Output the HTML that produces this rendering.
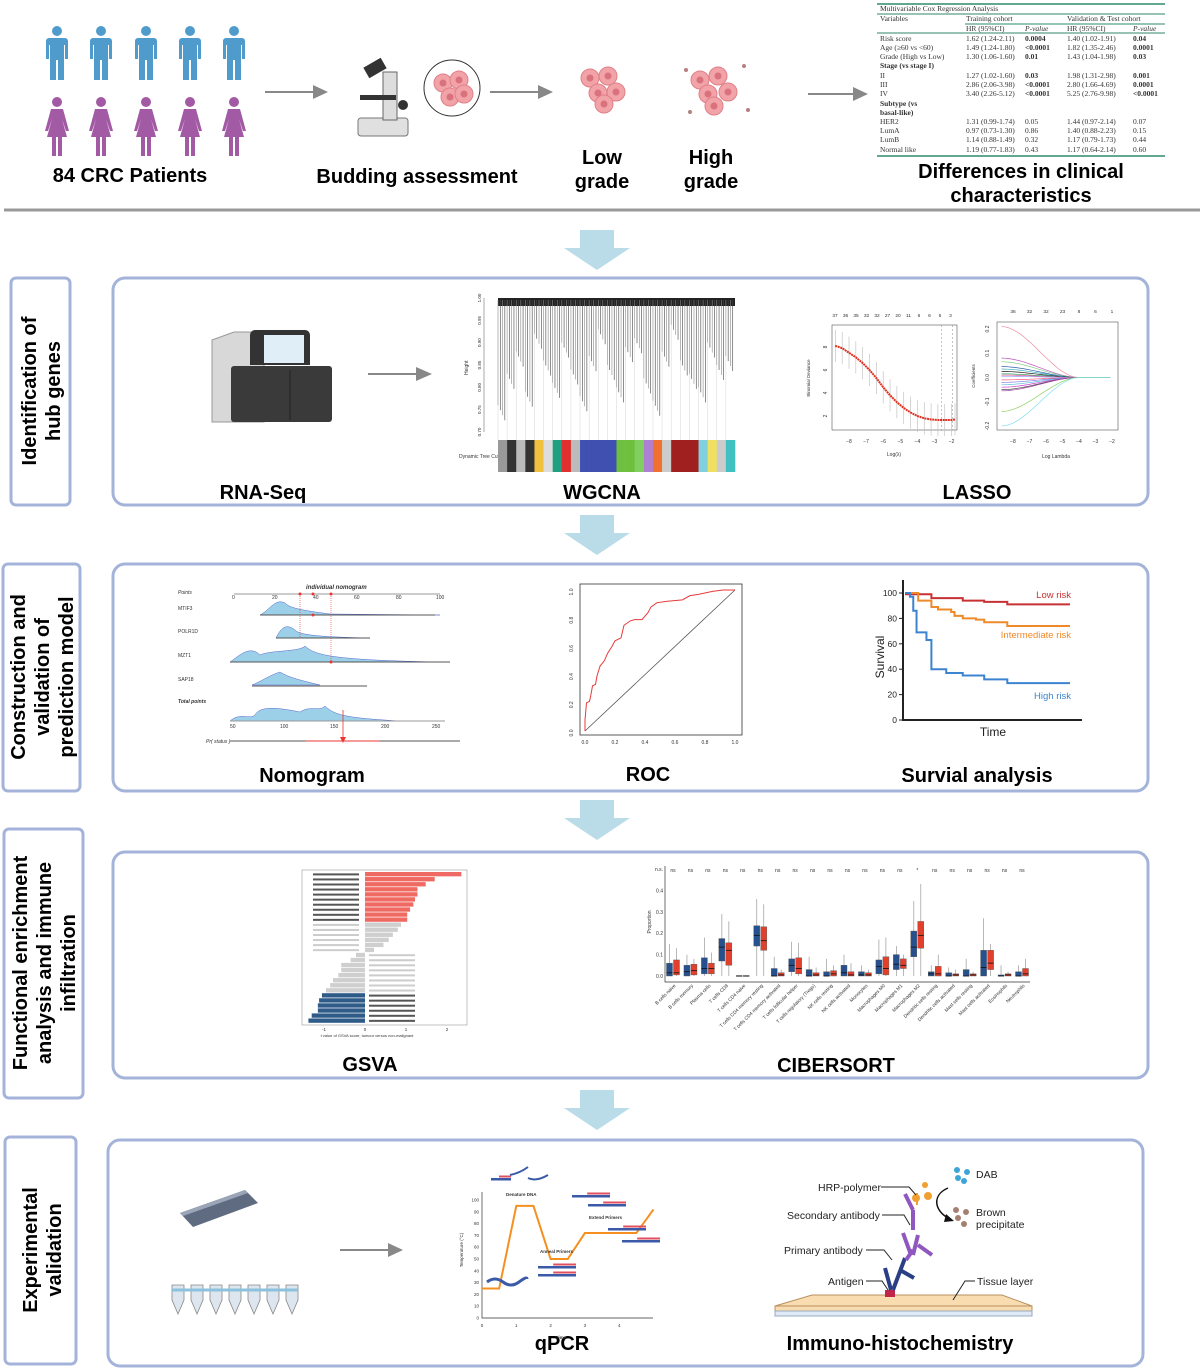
<!DOCTYPE html>
<html><head><meta charset="utf-8"><style>
html,body{margin:0;padding:0;background:#fff;}
svg{display:block;font-family:"Liberation Sans",sans-serif;}
.t{font-weight:bold;font-size:20px;fill:#000;text-anchor:middle;}
.tiny{font-size:5px;fill:#333;}
.box{fill:none;stroke:#a4b3d9;stroke-width:3;}
</style></head><body>
<svg id="page" width="1200" height="1368" viewBox="0 0 1200 1368" xmlns="http://www.w3.org/2000/svg">
<defs>
<g id="man"><circle cx="0" cy="-24" r="5" fill="#4f9ccc"/><path d="M-8,-17 h16 a3,3 0 0 1 3,3 v18 h-3 v-14 h-1 v35 h-6 v-20 h-2 v20 h-6 v-35 h-1 v14 h-3 v-18 a3,3 0 0 1 3,-3z" fill="#4f9ccc"/></g>
<g id="woman"><circle cx="0" cy="-24" r="5" fill="#a35aa5"/><path d="M-6,-17 h12 l6,22 h-3 l-4,-12 l5,18 h-5 v19 h-4 v-19 h-2 v19 h-4 v-19 h-5 l5,-18 l-4,12 h-3z" fill="#a35aa5"/></g>
<g id="cell"><circle r="9" fill="#f2a3a8" stroke="#e07f88" stroke-width="1"/><circle r="3.5" fill="#d9727c"/></g>
<g id="dnarrow"><polygon points="-33,0 33,0 0,22" fill="#b9dce8"/><rect x="-17" y="-18" width="34" height="18" fill="#b9dce8"/></g>
</defs>

<!-- top row -->
<g>
<use href="#man" x="57" y="55"/><use href="#man" x="101" y="55"/><use href="#man" x="146" y="55"/><use href="#man" x="190" y="55"/><use href="#man" x="234" y="55"/>
<use href="#woman" x="57" y="126"/><use href="#woman" x="101" y="126"/><use href="#woman" x="146" y="126"/><use href="#woman" x="190" y="126"/><use href="#woman" x="234" y="126"/>
</g>
<text class="t" x="130" y="182">84 CRC Patients</text>
<g><line x1="265" y1="92" x2="315" y2="92" stroke="#888" stroke-width="2"/><polygon points="313,85 328,92 313,99" fill="#888"/></g>
<g>
<rect x="358" y="118" width="50" height="18" rx="3" fill="#e0e0e0" stroke="#777"/>
<rect x="383" y="72" width="14" height="48" fill="#ddd" stroke="#666"/>
<rect x="360" y="95" width="36" height="5" fill="#333"/>
<rect x="365" y="62" width="20" height="12" fill="#333" transform="rotate(-30 375 68)"/>
<circle cx="403" cy="105" r="5" fill="#333"/>
<circle cx="452" cy="88" r="28" fill="#fff" stroke="#333"/>
<use href="#cell" x="443" y="83"/><use href="#cell" x="459" y="80"/><use href="#cell" x="450" y="97"/><use href="#cell" x="464" y="94"/>
</g>
<text class="t" x="417" y="183">Budding assessment</text>
<g><line x1="490" y1="92" x2="540" y2="92" stroke="#888" stroke-width="2"/><polygon points="538,85 553,92 538,99" fill="#888"/></g>
<g><use href="#cell" x="590" y="78"/><use href="#cell" x="608" y="76"/><use href="#cell" x="598" y="93"/><use href="#cell" x="616" y="92"/><use href="#cell" x="604" y="104"/></g>
<g><use href="#cell" x="700" y="80"/><use href="#cell" x="718" y="76"/><use href="#cell" x="708" y="94"/><use href="#cell" x="728" y="92"/><use href="#cell" x="714" y="106"/>
<circle cx="686" cy="70" r="2" fill="#b58080"/><circle cx="744" cy="66" r="2" fill="#b58080"/><circle cx="690" cy="112" r="2" fill="#b58080"/><circle cx="748" cy="110" r="2" fill="#b58080"/></g>
<text class="t" x="602" y="164">Low</text>
<text class="t" x="602" y="188">grade</text>
<text class="t" x="711" y="164">High</text>
<text class="t" x="711" y="188">grade</text>
<g><line x1="808" y1="94" x2="855" y2="94" stroke="#888" stroke-width="2"/><polygon points="853,87 868,94 853,101" fill="#888"/></g>

<g font-family="Liberation Serif" font-size="7.5" fill="#333">
<line x1="877" y1="4" x2="1165" y2="4" stroke="#2e8a6a" stroke-width="1.5"/>
<text x="880" y="11">Multivariable Cox Regression Analysis</text>
<line x1="877" y1="14" x2="1165" y2="14" stroke="#2e8a6a"/>
<text x="880" y="21">Variables</text><text x="966" y="21">Training cohort</text><text x="1067" y="21">Validation &amp; Test cohort</text>
<line x1="965" y1="24" x2="1165" y2="24" stroke="#2e8a6a"/>
<text x="966" y="31">HR (95%CI)</text><text x="1025" y="31" font-style="italic">P-value</text><text x="1067" y="31">HR (95%CI)</text><text x="1133" y="31" font-style="italic">P-value</text>
<line x1="877" y1="33" x2="1165" y2="33" stroke="#2e8a6a"/>
<text x="880" y="41">Risk score</text><text x="966" y="41">1.62 (1.24-2.11)</text><text x="1025" y="41" font-weight="bold">0.0004</text><text x="1067" y="41">1.40 (1.02-1.91)</text><text x="1133" y="41" font-weight="bold">0.04</text>
<text x="880" y="50">Age (≥60 vs &lt;60)</text><text x="966" y="50">1.49 (1.24-1.80)</text><text x="1025" y="50" font-weight="bold">&lt;0.0001</text><text x="1067" y="50">1.82 (1.35-2.46)</text><text x="1133" y="50" font-weight="bold">0.0001</text>
<text x="880" y="59">Grade (High vs Low)</text><text x="966" y="59">1.30 (1.06-1.60)</text><text x="1025" y="59" font-weight="bold">0.01</text><text x="1067" y="59">1.43 (1.04-1.98)</text><text x="1133" y="59" font-weight="bold">0.03</text>
<text x="880" y="68" font-weight="bold">Stage (vs stage I)</text>
<text x="880" y="78">II</text><text x="966" y="78">1.27 (1.02-1.60)</text><text x="1025" y="78" font-weight="bold">0.03</text><text x="1067" y="78">1.98 (1.31-2.98)</text><text x="1133" y="78" font-weight="bold">0.001</text>
<text x="880" y="87">III</text><text x="966" y="87">2.86 (2.06-3.98)</text><text x="1025" y="87" font-weight="bold">&lt;0.0001</text><text x="1067" y="87">2.80 (1.66-4.69)</text><text x="1133" y="87" font-weight="bold">0.0001</text>
<text x="880" y="96">IV</text><text x="966" y="96">3.40 (2.26-5.12)</text><text x="1025" y="96" font-weight="bold">&lt;0.0001</text><text x="1067" y="96">5.25 (2.76-9.98)</text><text x="1133" y="96" font-weight="bold">&lt;0.0001</text>
<text x="880" y="106" font-weight="bold">Subtype (vs</text><text x="880" y="115" font-weight="bold">basal-like)</text>
<text x="880" y="124">HER2</text><text x="966" y="124">1.31 (0.99-1.74)</text><text x="1025" y="124">0.05</text><text x="1067" y="124">1.44 (0.97-2.14)</text><text x="1133" y="124">0.07</text>
<text x="880" y="133">LumA</text><text x="966" y="133">0.97 (0.73-1.30)</text><text x="1025" y="133">0.86</text><text x="1067" y="133">1.40 (0.88-2.23)</text><text x="1133" y="133">0.15</text>
<text x="880" y="142">LumB</text><text x="966" y="142">1.14 (0.88-1.49)</text><text x="1025" y="142">0.32</text><text x="1067" y="142">1.17 (0.79-1.73)</text><text x="1133" y="142">0.44</text>
<text x="880" y="152">Normal like</text><text x="966" y="152">1.19 (0.77-1.83)</text><text x="1025" y="152">0.43</text><text x="1067" y="152">1.17 (0.64-2.14)</text><text x="1133" y="152">0.60</text>
<line x1="877" y1="156" x2="1165" y2="156" stroke="#2e8a6a" stroke-width="1.5"/>
</g>
<text class="t" x="1021" y="178">Differences in clinical</text>
<text class="t" x="1021" y="202">characteristics</text>
<line x1="4" y1="210" x2="1200" y2="210" stroke="#999" stroke-width="3"/>

<use href="#dnarrow" x="597" y="248"/>
<use href="#dnarrow" x="597" y="533"/>
<use href="#dnarrow" x="597" y="818"/>
<use href="#dnarrow" x="597" y="1108"/>

<!-- section boxes -->
<rect class="box" x="11" y="278" width="59" height="227" rx="5"/>
<text class="t" transform="translate(36 391) rotate(-90)">Identification of</text>
<text class="t" transform="translate(60 391) rotate(-90)">hub genes</text>
<rect class="box" x="113" y="278" width="1035" height="227" rx="12"/>

<rect class="box" x="3" y="564" width="77" height="227" rx="5"/>
<text class="t" transform="translate(25 677) rotate(-90)">Construction and</text>
<text class="t" transform="translate(49 677) rotate(-90)">validation of</text>
<text class="t" transform="translate(73 677) rotate(-90)">prediction model</text>
<rect class="box" x="113" y="564" width="1035" height="227" rx="12"/>

<rect class="box" x="4" y="829" width="79" height="269" rx="5"/>
<text class="t" transform="translate(27 963) rotate(-90)">Functional enrichment</text>
<text class="t" transform="translate(51 963) rotate(-90)">analysis and immune</text>
<text class="t" transform="translate(75 963) rotate(-90)">infiltration</text>
<rect class="box" x="113" y="852" width="1035" height="226" rx="12"/>

<rect class="box" x="5" y="1137" width="71" height="227" rx="5"/>
<text class="t" transform="translate(37 1250) rotate(-90)">Experimental</text>
<text class="t" transform="translate(61 1250) rotate(-90)">validation</text>
<rect class="box" x="108" y="1140" width="1035" height="226" rx="12"/>

<!-- RNA-seq machine -->
<g>
<path d="M212,340 l22,-8 h30 v90 h-52z" fill="#d8d8d8" stroke="#999"/>
<path d="M255,330 h50 a5,5 0 0 1 5,5 v30 h-60 v-30 a5,5 0 0 1 5,-5z" fill="#333"/>
<rect x="264" y="335" width="40" height="28" fill="#dfeef7"/>
<rect x="231" y="366" width="101" height="56" rx="3" fill="#3a3a3a"/>
<line x1="290" y1="370" x2="290" y2="420" stroke="#222"/>
</g>
<g><line x1="368" y1="374" x2="418" y2="374" stroke="#888" stroke-width="2"/><polygon points="416,367 432,374 416,381" fill="#888"/></g>
<text class="t" x="263" y="499">RNA-Seq</text>
<text class="t" x="602" y="499">WGCNA</text>
<text class="t" x="977" y="499">LASSO</text>
<text class="t" x="312" y="782">Nomogram</text>
<text class="t" x="648" y="781">ROC</text>
<text class="t" x="977" y="782">Survial analysis</text>
<text class="t" x="370" y="1071">GSVA</text>
<text class="t" x="836" y="1072">CIBERSORT</text>
<text class="t" x="562" y="1350">qPCR</text>
<text class="t" x="900" y="1350">Immuno-histochemistry</text>

<!-- WGCNA -->
<g id="wgcna">
<text class="tiny" transform="translate(468 375) rotate(-90)">Height</text>
<line x1="484" y1="298" x2="484" y2="432" stroke="#555" stroke-width="0.5"/>
<text class="tiny" x="459" y="458">Dynamic Tree Cut</text>
</g>
<!-- LASSO -->
<g id="lasso"></g>
<!-- Nomogram -->
<g font-size="5" fill="#333">
<text x="178" y="594" font-style="italic">Points</text><text x="306" y="589" font-weight="bold" font-style="italic" font-size="6">individual nomogram</text>
<line x1="234" y1="594" x2="440" y2="594" stroke="#999"/>
<text x="232" y="599">0</text><text x="272" y="599">20</text><text x="313" y="599">40</text><text x="354" y="599">60</text><text x="396" y="599">80</text><text x="436" y="599">100</text>
<text x="178" y="610">MTIF3</text><path d="M260,615 C270,610 275,598 285,603 C290,608 300,610 330,614 L440,615z" fill="#9bd0e8" stroke="#5566cc" stroke-width="0.5"/><line x1="260" y1="615" x2="435" y2="615" stroke="#555"/>
<text x="178" y="633">POLR1D</text><path d="M276,638 C280,630 285,622 295,630 C300,636 330,637 370,638z" fill="#9bd0e8" stroke="#5566cc" stroke-width="0.5"/><line x1="276" y1="638" x2="370" y2="638" stroke="#555"/>
<text x="178" y="657">MZT1</text><path d="M230,662 C240,655 250,645 260,655 C270,650 300,652 305,646 C315,655 330,660 440,662z" fill="#9bd0e8" stroke="#5566cc" stroke-width="0.5"/><line x1="230" y1="662" x2="450" y2="662" stroke="#555"/>
<text x="178" y="681">SAP18</text><path d="M252,685 C260,682 270,675 280,672 C290,678 300,680 320,685z" fill="#9bd0e8" stroke="#5566cc" stroke-width="0.5"/><line x1="252" y1="686" x2="367" y2="686" stroke="#555"/>
<text x="178" y="703" font-weight="bold" font-style="italic">Total points</text>
<path d="M230,721 C240,712 250,720 255,715 C260,705 280,708 300,712 C310,705 320,712 325,706 C335,716 350,718 400,721z" fill="#9bd0e8" stroke="#5566cc" stroke-width="0.5"/><line x1="230" y1="721" x2="445" y2="721" stroke="#999"/>
<text x="230" y="728">50</text><text x="280" y="728">100</text><text x="330" y="728">150</text><text x="381" y="728">200</text><text x="432" y="728">250</text>
<text x="206" y="743" font-style="italic">Pr( status )</text><line x1="230" y1="741" x2="460" y2="741" stroke="#555"/>
<line x1="305" y1="741" x2="380" y2="741" stroke="#e33"/><polygon points="340,737 346,737 343,743" fill="#e33"/>
<line x1="300" y1="594" x2="300" y2="638" stroke="#e33" stroke-dasharray="1,1" stroke-width="0.6"/><line x1="331" y1="594" x2="331" y2="662" stroke="#e33" stroke-dasharray="1,1" stroke-width="0.6"/><line x1="343" y1="710" x2="343" y2="741" stroke="#e33" stroke-width="0.8"/>
<circle cx="300" cy="594" r="1.5" fill="#e33"/><circle cx="313" cy="594" r="1.5" fill="#e33"/><circle cx="331" cy="594" r="1.5" fill="#e33"/><circle cx="313" cy="615" r="1.5" fill="#e33"/><circle cx="331" cy="662" r="1.5" fill="#e33"/>
</g>
<g id="roc"></g>
<g id="surv"></g>
<g id="gsva"></g>
<g id="cib"></g>

<!-- qPCR -->
<g>
<polygon points="180,1213 245,1190 258,1203 193,1227" fill="#5f6b80"/><polygon points="180,1213 245,1190 248,1193 183,1216" fill="#9aa5b8"/>
<g fill="#dde5ee" stroke="#888" stroke-width="0.8">
<path d="M172,1285 h12 v15 l-6,14 l-6,-14z"/><path d="M191,1285 h12 v15 l-6,14 l-6,-14z"/><path d="M210,1285 h12 v15 l-6,14 l-6,-14z"/><path d="M229,1285 h12 v15 l-6,14 l-6,-14z"/><path d="M248,1285 h12 v15 l-6,14 l-6,-14z"/><path d="M267,1285 h12 v15 l-6,14 l-6,-14z"/><path d="M286,1285 h12 v15 l-6,14 l-6,-14z"/>
</g>
<path d="M172,1290 h126" stroke="#8cc2de" stroke-width="3"/>
</g>
<g><line x1="340" y1="1250" x2="390" y2="1250" stroke="#888" stroke-width="2"/><polygon points="388,1243 403,1250 388,1257" fill="#888"/></g>
<g id="qpcr"></g>

<!-- IHC -->
<g font-size="10.5" fill="#222">
<polygon points="775,1306 812,1295 1002,1295 1032,1306" fill="#f9ddb0" stroke="#b89060"/>
<rect x="775" y="1306" width="257" height="5" fill="#f9ddb0" stroke="#b89060"/>
<rect x="775" y="1311" width="257" height="5" fill="#dfeaf8" stroke="#9ab"/>
<rect x="885" y="1290" width="10" height="7" fill="#c0264a"/>
<path d="M891,1290 l-6,-22 M893,1290 l12,-32 M900,1270 l14,8" stroke="#2b3f85" stroke-width="4" fill="none"/>
<path d="M900,1262 l-8,-22 M902,1260 l10,-28 M910,1254 l16,-6" stroke="#2b3f85" stroke-width="0" fill="none"/>
<path d="M911,1255 l-8,-22 M913,1255 l5,-20 M913,1250 l-7,10 M918,1245 l14,10" stroke="#9057c0" stroke-width="4" fill="none"/>
<path d="M913,1230 v-20 M913,1210 l-8,-16" stroke="#9057c0" stroke-width="4" fill="none"/>
<path d="M917,1205 v-12" stroke="#f0a030" stroke-width="2"/>
<circle cx="916" cy="1198" r="4" fill="#f0a030"/><circle cx="928" cy="1196" r="4" fill="#f0a030"/><circle cx="925" cy="1185" r="3" fill="#f0a030"/>
<path d="M948,1188 C932,1195 934,1210 948,1218" stroke="#111" stroke-width="1.5" fill="none"/><polygon points="946,1214 954,1221 944,1222" fill="#111"/>
<circle cx="958" cy="1178" r="3" fill="#3fa4d8"/><circle cx="967" cy="1172" r="3" fill="#3fa4d8"/><circle cx="957" cy="1170" r="3" fill="#3fa4d8"/><circle cx="964" cy="1181" r="3" fill="#3fa4d8"/>
<circle cx="958" cy="1218" r="3" fill="#a57f70"/><circle cx="966" cy="1212" r="3" fill="#a57f70"/><circle cx="956" cy="1210" r="3" fill="#a57f70"/><circle cx="964" cy="1224" r="3" fill="#a57f70"/>
<text x="976" y="1178">DAB</text><text x="976" y="1216">Brown</text><text x="976" y="1228">precipitate</text>
<text x="818" y="1191">HRP-polymer</text><path d="M881,1187 h28 l7,8" stroke="#222" fill="none"/>
<text x="787" y="1219">Secondary antibody</text><path d="M882,1215 h22 l6,10" stroke="#222" fill="none"/>
<text x="784" y="1254">Primary antibody</text><path d="M866,1250 h18 l8,10" stroke="#222" fill="none"/>
<text x="828" y="1285">Antigen</text><path d="M866,1281 h16 l6,9" stroke="#222" fill="none"/>
<text x="977" y="1285">Tissue layer</text><path d="M975,1281 h-10 l-12,19" stroke="#222" fill="none"/>
</g>
</svg>
<script>
const NS='http://www.w3.org/2000/svg';
function mk(p,tag,attrs){const e=document.createElementNS(NS,tag);for(const k in attrs)e.setAttribute(k,attrs[k]);p.appendChild(e);return e;}
function txt(p,x,y,s,size,extra){const e=mk(p,'text',Object.assign({x:x,y:y,'font-size':size,fill:'#333'},extra||{}));e.textContent=s;return e;}

/* ---------- Survival data ---------- */
const survHighT=[0,0.3,0.5,0.7,1.3,1.6,2.5,3.5,4.8,6.2,10];
const survHighV=[100,97,86,69,63,40,37,35,32,29,29];
const survMidT=[0,0.8,1.6,2.0,2.8,3.0,3.5,4.3,4.8,6.2,10];
const survMidV=[100,94,89,87,85,82,80,79,77,74,74];
const survLowT=[0,1.6,3.5,4.8,6.2,10];
const survLowV=[99,96,94,93,91,91];
const survTicks=[0,20,40,60,80,100];
/* ---------- ROC data ---------- */
const rocFpr=[0,0,0.01,0.03,0.04,0.05,0.07,0.08,0.10,0.13,0.15,0.18,0.20,0.24,0.26,0.30,0.33,0.38,0.42,0.44,0.48,0.55,0.65,0.70,0.76,0.85,0.92,1];
const rocTpr=[0,0.08,0.20,0.21,0.26,0.32,0.33,0.39,0.46,0.50,0.55,0.60,0.64,0.66,0.75,0.78,0.79,0.79,0.84,0.88,0.91,0.92,0.93,0.96,0.97,0.99,1.0,1.0];
const rocTicks=[0,0.2,0.4,0.6,0.8,1.0];
/* ---------- GSVA data ---------- */
const gsvaValues=[2.35,1.7,1.48,1.28,1.28,1.22,1.18,1.1,1.03,1.03,0.88,0.8,0.68,0.58,0.45,0.22,-0.22,-0.35,-0.58,-0.58,-0.65,-0.78,-0.85,-0.95,-1.05,-1.12,-1.15,-1.15,-1.3,-1.38];
const gsvaGroup=['up','up','up','up','up','up','up','up','up','up','ns','ns','ns','ns','ns','ns','ns','ns','ns','ns','ns','ns','ns','ns','down','down','down','down','down','down'];
const gsvaTicks=[-1,0,1,2];
/* ---------- CIBERSORT data ---------- */
const cibCells=['B cells naive','B cells memory','Plasma cells','T cells CD8','T cells CD4 naive','T cells CD4 memory resting','T cells CD4 memory activated','T cells follicular helper','T cells regulatory (Tregs)','NK cells resting','NK cells activated','Monocytes','Macrophages M0','Macrophages M1','Macrophages M2','Dendritic cells resting','Dendritic cells activated','Mast cells resting','Mast cells activated','Eosinophils','Neutrophils'];
const cibLowQ1=[0.00,0.00,0.01,0.07,0,0.14,0.00,0.02,0.00,0.00,0.00,0.00,0.01,0.03,0.09,0.00,0.00,0.00,0.00,0.00,0.00];
const cibLowMed=[0.015,0.02,0.035,0.135,0,0.19,0.00,0.05,0.00,0.00,0.015,0.005,0.045,0.055,0.135,0.01,0.00,0.00,0.04,0.00,0.00];
const cibLowQ3=[0.06,0.05,0.085,0.175,0.002,0.235,0.035,0.08,0.03,0.02,0.05,0.02,0.075,0.10,0.21,0.02,0.015,0.03,0.12,0.005,0.02];
const cibLowMax=[0.15,0.10,0.18,0.29,0.002,0.36,0.09,0.16,0.09,0.08,0.10,0.05,0.17,0.14,0.35,0.05,0.04,0.08,0.27,0.05,0.05];
const cibHighQ1=[0.005,0.005,0.01,0.05,0,0.12,0.00,0.01,0.00,0.00,0.00,0.00,0.005,0.035,0.13,0.00,0.00,0.00,0.03,0.00,0.00];
const cibHighMed=[0.015,0.025,0.035,0.12,0,0.165,0.005,0.035,0.005,0.01,0.005,0.005,0.035,0.05,0.19,0.01,0.005,0.005,0.06,0.005,0.01];
const cibHighQ3=[0.075,0.055,0.06,0.155,0.002,0.23,0.015,0.085,0.015,0.025,0.02,0.015,0.09,0.08,0.255,0.045,0.01,0.01,0.12,0.01,0.035];
const cibHighMax=[0.13,0.08,0.11,0.255,0.002,0.335,0.03,0.155,0.04,0.05,0.06,0.03,0.18,0.10,0.43,0.10,0.03,0.02,0.15,0.02,0.08];
const cibSig=['ns','ns','ns','ns','ns','ns','ns','ns','ns','ns','ns','ns','ns','ns','*','ns','ns','ns','ns','ns','ns'];
const cibTicks=[0,0.1,0.2,0.3,0.4,0.5];
/* ---------- LASSO data ---------- */
const lassoLogLambda=[-8.8,-8.4,-8,-7.6,-7.2,-6.8,-6.4,-6,-5.6,-5.2,-4.8,-4.4,-4,-3.6,-3.2,-2.8,-2.4,-2.0,-1.8];
const lassoDeviance=[8.1,7.9,7.5,7.1,6.6,6.0,5.3,4.5,3.8,3.2,2.7,2.3,2.0,1.8,1.7,1.65,1.65,1.65,1.7];
const lassoCoefStart=[0.21,0.08,0.065,0.045,0.035,0.025,0.015,0.01,0.005,-0.01,-0.02,-0.03,-0.04,-0.05,-0.055,-0.14,-0.2];
const lassoColors=['#f08ca0','#c050c0','#80d080','#3060b0','#40b0c0','#222','#30a060','#e060a0','#a0a0ff','#ff6080','#8080e0','#60c0e0','#d040d0','#505050','#a040a0','#90d060','#80e0f0'];
const lassoTopTicks=['37','36','35','32','32','27','20','11','6','6','5','3'];
/* ---------- WGCNA data ---------- */
const wgcnaModules=['#999','#333','#bbb','#333','#f0c040','#ddd','#20a080','#e03030','#bbb','#4050b0','#4050b0','#4050b0','#4050b0','#70c040','#70c040','#80d060','#b080d0','#f07030','#ccc','#a02020','#a02020','#a02020','#80d0e0','#f0e060','#ccc','#40c0c0'];
const wgcnaBranches=[0.76,0.83,0.88,0.79,0.92,0.86,0.81,0.90,0.84,0.78,0.87,0.93,0.85,0.80,0.89,0.91,0.82,0.77,0.88,0.94,0.86,0.83,0.80,0.90,0.85,0.87];
/* ---------- qPCR data ---------- */
const qpcrTime=[0,0.5,1,1.5,2,2.5,3,4.5,5];
const qpcrTemp=[25,25,95,95,50,50,72,72,92];
const qpcrYTicks=[0,10,20,30,40,50,60,70,80,90,100];

/* survival */
(function(){
const g=document.getElementById('surv');
const X=t=>905+t/10*165, Y=v=>720-v/100*127;
mk(g,'path',{d:'M903,580 V720 H1082',stroke:'#222','stroke-width':2,fill:'none'});
survTicks.forEach(v=>{mk(g,'line',{x1:899,x2:903,y1:Y(v),y2:Y(v),stroke:'#222'});txt(g,897,Y(v)+3,String(v),8.5,{'text-anchor':'end',fill:'#222'});});
function step(T,V,c,n){let d='M'+X(T[0])+','+Y(V[0]);for(let i=1;i<T.length;i++){d+=' H'+X(T[i])+' V'+Y(V[i]);}
const p=mk(g,'path',{d:d,stroke:c,'stroke-width':2,fill:'none'});}
step(survLowT,survLowV,'#c83232','low-risk-curve');step(survMidT,survMidV,'#ef8a2a','intermediate-risk-curve');step(survHighT,survHighV,'#3d84d0','high-risk-curve');
txt(g,1071,598,'Low risk',9.5,{'text-anchor':'end',fill:'#c83232'});
txt(g,1071,638,'Intermediate risk',9.5,{'text-anchor':'end',fill:'#ef8a2a'});
txt(g,1071,699,'High risk',9.5,{'text-anchor':'end',fill:'#3d84d0'});
txt(g,993,736,'Time',12,{'text-anchor':'middle',fill:'#222'});
txt(g,0,0,'Survival',12,{transform:'translate(884 657) rotate(-90)','text-anchor':'middle',fill:'#222'});
})();

/* ROC */
(function(){
const g=document.getElementById('roc');
const X=v=>585+v*150, Y=v=>731-v*141;
mk(g,'rect',{x:580,y:584,width:162,height:151,fill:'none',stroke:'#333','stroke-width':0.8});
mk(g,'line',{x1:X(0),y1:Y(0),x2:X(1),y2:Y(1),stroke:'#555','stroke-width':0.8});
rocTicks.forEach(v=>{txt(g,X(v),744,v.toFixed(1),5,{'text-anchor':'middle'});txt(g,0,0,v.toFixed(1),5,{transform:'translate(573 '+(Y(v)+2)+') rotate(-90)','text-anchor':'middle'});});
let d='';rocFpr.forEach((f,i)=>{d+=(i?'L':'M')+X(f)+','+Y(rocTpr[i]);});
const p=mk(g,'path',{d:d,stroke:'#e83a3a','stroke-width':1,fill:'none'});

})();

/* GSVA */
(function(){
const g=document.getElementById('gsva');
const X=v=>365+v*41, y0=872, h=5.05;
mk(g,'rect',{x:302,y:870,width:165,height:155,fill:'#fff',stroke:'#999','stroke-width':0.6});
gsvaValues.forEach((v,i)=>{
const c=gsvaGroup[i]==='up'?'#f06a64':gsvaGroup[i]==='down'?'#2f5b88':'#cfcfcf';
const r=mk(g,'rect',{x:Math.min(X(0),X(v)),y:y0+i*h,width:Math.abs(X(v)-X(0)),height:h-0.7,fill:c});

mk(g,'rect',{x:v>0?X(0)-52:X(0)+4,y:y0+i*h+1.4,width:46,height:2,fill:gsvaGroup[i]==='ns'?'#ccc':'#555'});
});
gsvaTicks.forEach(v=>{txt(g,X(v),1031,String(v),4.5,{'text-anchor':'middle'});});
txt(g,367,1037,'t value of GSVA score, tumour versus non-malignant',4,{'text-anchor':'middle'});
})();

/* CIBERSORT */
(function(){
const g=document.getElementById('cib');
const X=i=>673+i*17.45, Y=v=>976-v*214;
mk(g,'path',{d:'M665,866 V982 H1030',stroke:'#333','stroke-width':0.7,fill:'none'});
cibTicks.forEach(v=>{txt(g,663,Y(v)+2,v===0.5?'n.s.':v.toFixed(1),5,{'text-anchor':'end'});});
txt(g,0,0,'Proportion',5,{transform:'translate(651 922) rotate(-90)','text-anchor':'middle'});
cibCells.forEach((c,i)=>{
[[cibLowQ1,cibLowMed,cibLowQ3,cibLowMax,'#26508e',-3.5],[cibHighQ1,cibHighMed,cibHighQ3,cibHighMax,'#e2402c',3.5]].forEach(s=>{
const cx=X(i)+s[5];
mk(g,'line',{x1:cx,x2:cx,y1:Y(s[3][i]),y2:Y(0),stroke:'#999','stroke-width':0.7});
const b=mk(g,'rect',{x:cx-3,y:Y(s[2][i]),width:6,height:Math.max(0.8,Y(s[0][i])-Y(s[2][i])),fill:s[4],stroke:'#555','stroke-width':0.4});

mk(g,'line',{x1:cx-3,x2:cx+3,y1:Y(s[1][i]),y2:Y(s[1][i]),stroke:'#111','stroke-width':0.8});
});
txt(g,X(i),872,cibSig[i],5,{'text-anchor':'middle'});
txt(g,0,0,c,4.8,{transform:'translate('+(X(i)+3)+' 986) rotate(-45)','text-anchor':'end'});
});
})();

/* LASSO */
(function(){
const g=document.getElementById('lasso');
const X1=v=>849+(v+8)*17.1, Y1=v=>347+(8-v)*11.5;
mk(g,'rect',{x:832,y:325,width:125,height:105,fill:'none',stroke:'#555','stroke-width':0.6});
lassoLogLambda.forEach((l,i)=>{mk(g,'line',{x1:X1(l),x2:X1(l),y1:Y1(lassoDeviance[i]+1.4),y2:Y1(lassoDeviance[i]-1.4),stroke:'#bbb','stroke-width':0.6});});
let d='';lassoLogLambda.forEach((l,i)=>{d+=(i?'L':'M')+X1(l)+','+Y1(lassoDeviance[i]);});
const p=mk(g,'path',{d:d,stroke:'#e03020','stroke-width':2,fill:'none','stroke-dasharray':'2,0.6'});

mk(g,'line',{x1:X1(-2.6),x2:X1(-2.6),y1:325,y2:430,stroke:'#888','stroke-dasharray':'2,2','stroke-width':0.5});
mk(g,'line',{x1:X1(-1.95),x2:X1(-1.95),y1:325,y2:430,stroke:'#888','stroke-dasharray':'2,2','stroke-width':0.5});
[-8,-7,-6,-5,-4,-3,-2].forEach(v=>{txt(g,X1(v),443,'−'+(-v),5,{'text-anchor':'middle'});txt(g,X2(v),443,'−'+(-v),5,{'text-anchor':'middle'});});
[2,4,6,8].forEach(v=>txt(g,0,0,String(v),5,{transform:'translate(827 '+Y1(v)+') rotate(-90)','text-anchor':'middle'}));
lassoTopTicks.forEach((s,i)=>txt(g,835+i*10.5,317,s,4.8,{'text-anchor':'middle'}));
txt(g,894,456,'Log(λ)',5,{'text-anchor':'middle'});
txt(g,0,0,'Binomial Deviance',4.5,{transform:'translate(810 378) rotate(-90)','text-anchor':'middle'});
function X2(v){return 1013+(v+8)*16.5;}
const Y2=v=>377.5-v*242.5;
mk(g,'rect',{x:997,y:322,width:121,height:108,fill:'none',stroke:'#555','stroke-width':0.6});
lassoCoefStart.forEach((c0,k)=>{
let dd='';for(let x=-8.7;x<=-2;x+=0.2){const f=x< -4 ? Math.max(0,Math.min(1,(-4-x)/4.7)) : 0;const s=f*f*(3-2*f);dd+=(dd?'L':'M')+X2(x).toFixed(1)+','+Y2(c0*s).toFixed(1);}
const pp=mk(g,'path',{d:dd,stroke:lassoColors[k],'stroke-width':0.7,fill:'none'});

});
[-0.2,-0.1,0,0.1,0.2].forEach(v=>txt(g,0,0,v.toFixed(1),5,{transform:'translate(989 '+Y2(v)+') rotate(-90)','text-anchor':'middle'}));
['36','32','32','23','8','6','1'].forEach((s,i)=>txt(g,X2(-8+i),313,s,4.8,{'text-anchor':'middle'}));
txt(g,1056,458,'Log Lambda',5,{'text-anchor':'middle'});
txt(g,0,0,'Coefficients',4.5,{transform:'translate(975 376) rotate(-90)','text-anchor':'middle'});
})();

/* WGCNA */
(function(){
const g=document.getElementById('wgcna');
const Y=v=>298+(1-v)/0.3*134;
[0.7,0.75,0.8,0.85,0.9,0.95,1.0].forEach(v=>txt(g,0,0,v.toFixed(2),4.5,{transform:'translate(481 '+Y(v)+') rotate(-90)','text-anchor':'middle'}));
mk(g,'rect',{x:498,y:298,width:237,height:8,fill:'#222'});
const w=237/wgcnaBranches.length;
wgcnaBranches.forEach((b,i)=>{
for(let k=0;k<4;k++){mk(g,'line',{x1:498+i*w+k*w/4,x2:498+i*w+k*w/4,y1:300,y2:Y(b)+k*5,stroke:k%2?'#444':'#888','stroke-width':0.6});}
mk(g,'line',{x1:498+i*w,x2:498+i*w,y1:Y(b),y2:440,stroke:'#ccc','stroke-width':0.4});
});
wgcnaModules.forEach((c,i)=>{const r=mk(g,'rect',{x:498+i*w,y:440,width:w+0.3,height:32,fill:c});
});
})();

/* qPCR */
(function(){
const g=document.getElementById('qpcr');
const X=t=>482+t*34.3, Y=v=>1318-v*1.18;
mk(g,'path',{d:'M482,1192 V1318 H653',stroke:'#333','stroke-width':0.7,fill:'none'});
qpcrYTicks.forEach(v=>txt(g,479,Y(v)+1.5,String(v),4.5,{'text-anchor':'end'}));
[0,1,2,3,4].forEach(v=>txt(g,X(v),1327,String(v),4.5,{'text-anchor':'middle'}));
txt(g,561,1313,'',4);
txt(g,561,1339,'Time',4.5,{'text-anchor':'middle','font-weight':'bold'});
txt(g,0,0,'Temperature (°C)',4.5,{transform:'translate(463 1250) rotate(-90)','text-anchor':'middle'});
let d='';qpcrTime.forEach((t,i)=>{d+=(i?'L':'M')+X(t)+','+Y(qpcrTemp[i]);});
const p=mk(g,'path',{d:d,stroke:'#f59020','stroke-width':2,fill:'none'});

txt(g,506,1196,'Denature DNA',4.5,{'font-weight':'bold'});txt(g,540,1253,'Anneal Primers',4.5,{'font-weight':'bold'});txt(g,589,1219,'Extend Primers',4.5,{'font-weight':'bold'});
[[491,1178,20],[538,1266,38],[538,1274,38],[572,1195,38],[588,1204,38],[608,1228,38],[622,1240,38]].forEach(s=>{mk(g,'rect',{x:s[0],y:s[1],width:s[2],height:2.5,fill:'#3a5aa8'});mk(g,'rect',{x:s[0]+s[2]*0.4,y:s[1]-2.5,width:s[2]*0.6,height:2,fill:'#e05060'});});
mk(g,'path',{d:'M487,1282 q8,-6 16,0 t16,0 t8,-3',stroke:'#3a5aa8','stroke-width':3,fill:'none'});
mk(g,'path',{d:'M510,1175 q10,-2 18,-8 M528,1178 q8,4 20,-3',stroke:'#3a5aa8','stroke-width':2,fill:'none'});
})();
</script>
</body></html>
